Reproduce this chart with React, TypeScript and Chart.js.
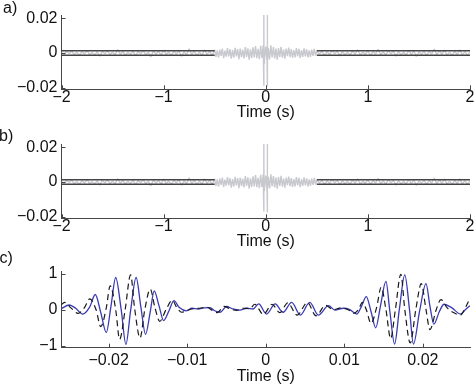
import React, { useEffect, useRef } from 'react';
import { Chart, registerables } from 'chart.js';

Chart.register(...registerables);

// ---------------- data ----------------
// panels a) and b): x axis
const xTicksAB = [-2, -1, 0, 1, 2];
const yTicksAB = [-0.02, 0, 0.02];
// panel c) axes
const xTicksC = [-0.02, -0.01, 0, 0.01, 0.02];
const yTicksC = [-1, 0, 1];

// gray raw signal, outer left part (t = -2 ... -0.525, step 0.025 s)
const grayOuterLeft = [
  0.0004, -0.0007, 0.0009, -0.0003, 0.0012, -0.0010, 0.0005, -0.0014, 0.0008, -0.0006,
  0.0015, -0.0009, 0.0003, -0.0012, 0.0007, -0.0018, 0.0010, -0.0005, 0.0013, -0.0008,
  0.0006, -0.0011, 0.0020, -0.0007, 0.0009, -0.0013, 0.0004, -0.0009, 0.0011, -0.0016,
  0.0008, -0.0004, 0.0014, -0.0010, 0.0006, -0.0022, 0.0012, -0.0007, 0.0009, -0.0012,
  0.0017, -0.0008, 0.0005, -0.0014, 0.0010, -0.0006, 0.0013, -0.0019, 0.0007, -0.0010,
  0.0024, -0.0009, 0.0011, -0.0015, 0.0006, -0.0012, 0.0018, -0.0008, 0.0010, -0.0013,
];
// gray raw signal, inner part (t = -0.5 ... 0.5, step 0.0125 s)
const grayInner = [
  0.0018, -0.0022, 0.0015, -0.0027, 0.0020, -0.0017, 0.0025, -0.0030, 0.0014, -0.0021,
  0.0028, -0.0019, 0.0023, -0.0033, 0.0017, -0.0026, 0.0030, -0.0020, 0.0022, -0.0035,
  0.0026, -0.0024, 0.0019, -0.0031, 0.0035, -0.0022, 0.0027, -0.0038, 0.0021, -0.0029,
  0.0033, -0.0025, 0.0040, -0.0030, 0.0024, -0.0036, 0.0042, -0.0028, 0.0045, -0.0040,
  0.0038,
  -0.0042, 0.0030, -0.0037, 0.0044, -0.0026, 0.0034, -0.0031, 0.0025, -0.0039, 0.0029,
  -0.0023, 0.0036, -0.0027, 0.0020, -0.0032, 0.0026, -0.0018, 0.0031, -0.0024, 0.0022,
  -0.0028, 0.0017, -0.0025, 0.0029, -0.0020, 0.0024, -0.0030, 0.0016, -0.0022, 0.0027,
  -0.0019, 0.0021, -0.0026, 0.0015, -0.0023, 0.0019, -0.0017, 0.0024, -0.0015, 0.0012,
];
// gray raw signal, outer right part (t = 0.525 ... 2, step 0.025 s)
const grayOuterRight = [
  -0.0006, 0.0010, -0.0013, 0.0007, -0.0009, 0.0015, -0.0005, 0.0011, -0.0017, 0.0008,
  -0.0010, 0.0006, -0.0014, 0.0012, -0.0007, 0.0019, -0.0011, 0.0005, -0.0008, 0.0013,
  -0.0016, 0.0009, -0.0006, 0.0021, -0.0010, 0.0007, -0.0012, 0.0014, -0.0005, 0.0010,
  -0.0018, 0.0008, -0.0011, 0.0006, -0.0013, 0.0016, -0.0009, 0.0012, -0.0020, 0.0007,
  -0.0008, 0.0011, -0.0015, 0.0009, -0.0006, 0.0023, -0.0010, 0.0013, -0.0007, 0.0017,
  -0.0012, 0.0005, -0.0014, 0.0010, -0.0009, 0.0018, -0.0011, 0.0008, -0.0013, 0.0006,
];
// the two spikes near t = 0
const spikeT = [-0.0195, -0.0188, -0.0182, -0.0176, -0.017, 0.015, 0.0156, 0.0162, 0.0168, 0.0174];
const spikeA = [0.005, 0.024, -0.019, 0.016, -0.006, -0.006, 0.024, -0.0192, 0.015, -0.005];
const spikeB = [0.004, 0.023, -0.017, 0.014, -0.005, -0.005, 0.023, -0.0175, 0.013, -0.004];

// dark threshold lines (panels a, b)
const threshT = [-2, -0.5, 0, 0.5, 2];
const threshUpper = [0.0013, 0.0013, null, 0.0013, 0.0013];
const threshLower = [-0.0013, -0.0013, null, -0.0013, -0.0013];

// panel c) blue solid
const blueT = [
  -0.0261, -0.025, -0.0242, -0.0233, -0.0224, -0.0217, -0.021, -0.0203, -0.0197, -0.0191,
  -0.0184, -0.0178, -0.0172, -0.0165, -0.0159, -0.0153, -0.0147, -0.0142, -0.0136, -0.013,
  -0.0123, -0.0117, -0.011, -0.0101, -0.0094, -0.0086, -0.0079, -0.0071, -0.0065, -0.0058,
  -0.005, -0.0042, -0.0033, -0.0024, -0.0016, -0.0009, 0.0001, 0.0012, 0.0022, 0.0033,
  0.0044, 0.0056, 0.0067, 0.008, 0.0088, 0.0099, 0.0107, 0.0116, 0.0122, 0.0128,
  0.0134, 0.014, 0.0146, 0.0153, 0.0158, 0.0164, 0.017, 0.0177, 0.0183, 0.0188,
  0.0196, 0.0204, 0.0209, 0.0214, 0.0221, 0.0227, 0.0237, 0.0248, 0.0254, 0.026,
];
const blueV = [
  0.02, 0.13, 0.04, -0.12, 0.08, 0.42, -0.08, -0.63, 0.1, 0.89,
  0.0, -0.96, -0.02, 0.89, 0.08, -0.68, -0.05, 0.52, 0.12, -0.3,
  -0.02, 0.25, 0.06, -0.03, 0.04, 0.02, 0.05, 0.06, -0.03, -0.07,
  0.09, 0.02, -0.01, 0.04, 0.02, 0.16, -0.12, 0.16, -0.07, 0.2,
  -0.15, 0.2, -0.15, 0.11, -0.01, 0.04, 0.0, -0.12, 0.1, 0.36,
  -0.05, -0.5, 0.1, 0.78, -0.05, -0.95, 0.0, 0.96, 0.0, -0.95,
  -0.02, 0.72, 0.1, -0.4, -0.05, 0.15, 0.05, -0.12, 0.0, 0.11,
];
// panel c) black dashed
const dashT = [
  -0.0261, -0.0256, -0.0248, -0.0239, -0.0231, -0.0224, -0.0216, -0.021, -0.0203, -0.0198,
  -0.0191, -0.0186, -0.0179, -0.0172, -0.0167, -0.016, -0.0154, -0.0147, -0.0141, -0.0135,
  -0.0127, -0.0119, -0.0113, -0.0107, -0.01, -0.0094, -0.0084, -0.0075, -0.0068, -0.0062,
  -0.0053, -0.0046, -0.0037, -0.0028, -0.002, -0.0014, -0.0003, 0.0008, 0.0018, 0.0028,
  0.004, 0.0053, 0.0064, 0.0076, 0.0086, 0.0096, 0.0105, 0.0112, 0.0118, 0.0123,
  0.0128, 0.0134, 0.0141, 0.0147, 0.0153, 0.0159, 0.0165, 0.0172, 0.0177, 0.0184,
  0.0191, 0.0198, 0.0204, 0.0209, 0.0217, 0.0223, 0.0231, 0.0239, 0.0248, 0.0254,
  0.026,
];
const dashV = [
  0.12, 0.2, 0.05, -0.1, 0.05, 0.3, 0.0, -0.47, 0.05, 0.66,
  0.0, -0.82, 0.0, 0.96, 0.05, -0.78, 0.0, 0.57, 0.05, -0.32,
  0.0, 0.26, 0.05, -0.07, -0.02, 0.02, 0.04, 0.07, -0.02, -0.08,
  0.09, 0.03, -0.02, 0.04, 0.03, 0.15, -0.13, 0.15, -0.08, 0.19,
  -0.15, 0.2, -0.17, 0.12, 0.0, 0.05, 0.0, -0.1, 0.0, 0.2,
  0.0, -0.38, 0.05, 0.62, 0.0, -0.8, 0.0, 0.98, 0.0, -0.92,
  0.0, 0.72, 0.0, -0.55, 0.0, 0.28, 0.05, -0.08, -0.15, 0.05,
  0.32,
];

// ---------------- styles ----------------
const FONT_FAMILY = '"Liberation Sans", Arial, Helvetica, sans-serif';
const AXIS_COLOR = '#464646';
const TEXT_COLOR = '#111111';
const GRAY = 'rgb(200,200,207)';
const DARK = '#454545';
const BLUE = '#3a3ab4';
const DASH = '#1a1a1a';

function fmt(v: number): string {
  if (v === 0) return '0';
  return (v < 0 ? '\u2212' : '') + String(Math.abs(v));
}

function grayPoints(spikeV: number[]) {
  const pts: { x: number; y: number }[] = [];
  grayOuterLeft.forEach((v, i) => pts.push({ x: -2 + i * 0.025, y: v }));
  grayInner.forEach((v, i) => pts.push({ x: -0.5 + i * 0.0125, y: v }));
  grayOuterRight.forEach((v, i) => pts.push({ x: 0.525 + i * 0.025, y: v }));
  spikeT.forEach((t, i) => pts.push({ x: t, y: spikeV[i] }));
  pts.sort((a, b) => a.x - b.x);
  return pts;
}

function zip(ts: number[], vs: (number | null)[]) {
  return ts.map((t, i) => ({ x: t, y: vs[i] }));
}

function abDatasets(spikeV: number[]) {
  return [
    { data: zip(threshT, threshUpper), borderColor: DARK, borderWidth: 1.7, order: 0, spanGaps: false, pointRadius: 0 },
    { data: zip(threshT, threshLower), borderColor: DARK, borderWidth: 1.7, order: 0, spanGaps: false, pointRadius: 0 },
    { data: grayPoints(spikeV), borderColor: GRAY, borderWidth: 1.4, order: 1, pointRadius: 0, borderJoinStyle: 'bevel' },
  ];
}

function cDatasets() {
  return [
    { data: zip(dashT, dashV), borderColor: DASH, borderWidth: 1.2, borderDash: [6, 4], order: 0, pointRadius: 0, cubicInterpolationMode: 'monotone' },
    { data: zip(blueT, blueV), borderColor: BLUE, borderWidth: 1.3, order: 1, pointRadius: 0, cubicInterpolationMode: 'monotone' },
  ];
}

const innerTicks = {
  id: 'innerTicks',
  afterDatasetsDraw(chart: any) {
    const { ctx, chartArea, scales } = chart;
    ctx.save();
    ctx.strokeStyle = AXIS_COLOR;
    ctx.lineWidth = 1;
    scales.x.ticks.forEach((t: any) => {
      const px = Math.round(scales.x.getPixelForValue(t.value)) + 0.5;
      ctx.beginPath();
      ctx.moveTo(px, chartArea.bottom);
      ctx.lineTo(px, chartArea.bottom - 4);
      ctx.stroke();
    });
    scales.y.ticks.forEach((t: any) => {
      const py = Math.round(scales.y.getPixelForValue(t.value)) + 0.5;
      ctx.beginPath();
      ctx.moveTo(chartArea.left, py);
      ctx.lineTo(chartArea.left + 4, py);
      ctx.stroke();
    });
    ctx.restore();
  },
};

type Spec = {
  canvasTop: number;
  canvasHeight: number;
  chartTop: number;
  chartBottom: number;
  tickMid: number;
  titleMid: number;
  xMin: number;
  xMax: number;
  yMin: number;
  yMax: number;
  xTicks: number[];
  yTicks: number[];
  datasets: () => any[];
};

const LEFT = 61.5;
const RIGHT_PAD = 4;

function makeConfig(spec: Spec): any {
  const padTop = spec.chartTop - spec.canvasTop;
  const xAxisHeight = spec.canvasTop + spec.canvasHeight - spec.chartBottom;
  const tickPad = spec.tickMid - spec.chartBottom - 8;
  const titlePadBottom = spec.canvasTop + spec.canvasHeight - spec.titleMid - 8;
  const font = { family: FONT_FAMILY, size: 16, lineHeight: 1 };
  return {
    type: 'line',
    data: { datasets: spec.datasets() },
    options: {
      animation: false,
      responsive: false,
      maintainAspectRatio: false,
      events: [],
      layout: { padding: { top: padTop, left: 0, right: RIGHT_PAD, bottom: 0 } },
      plugins: { legend: { display: false }, tooltip: { enabled: false }, title: { display: false } },
      elements: { point: { radius: 0 }, line: { tension: 0 } },
      scales: {
        x: {
          type: 'linear',
          position: 'bottom',
          min: spec.xMin,
          max: spec.xMax,
          afterBuildTicks: (s: any) => {
            s.ticks = spec.xTicks.map((v) => ({ value: v }));
          },
          afterFit: (s: any) => {
            s.height = xAxisHeight;
            s.paddingLeft = 0;
            s.paddingRight = 0;
          },
          grid: { display: false, drawTicks: false },
          border: { display: true, color: AXIS_COLOR, width: 1 },
          ticks: {
            padding: tickPad,
            color: TEXT_COLOR,
            font,
            maxRotation: 0,
            autoSkip: false,
            callback: (v: any) => fmt(Number(v)),
          },
          title: {
            display: true,
            text: 'Time (s)',
            color: TEXT_COLOR,
            font,
            padding: { top: 0, bottom: titlePadBottom },
          },
        },
        y: {
          type: 'linear',
          position: 'left',
          min: spec.yMin,
          max: spec.yMax,
          afterBuildTicks: (s: any) => {
            s.ticks = spec.yTicks.map((v) => ({ value: v }));
          },
          afterFit: (s: any) => {
            s.width = LEFT;
            s.paddingTop = 0;
            s.paddingBottom = 0;
          },
          grid: { display: false, drawTicks: false },
          border: { display: true, color: AXIS_COLOR, width: 1 },
          ticks: {
            padding: 4,
            color: TEXT_COLOR,
            font,
            autoSkip: false,
            callback: (v: any) => fmt(Number(v)),
          },
        },
      },
    },
    plugins: [innerTicks],
  };
}

const specs: Spec[] = [
  {
    canvasTop: 0, canvasHeight: 125, chartTop: 15, chartBottom: 89.3, tickMid: 98, titleMid: 113,
    xMin: -2, xMax: 2, yMin: -0.021, yMax: 0.022, xTicks: xTicksAB, yTicks: yTicksAB,
    datasets: () => abDatasets(spikeA),
  },
  {
    canvasTop: 125, canvasHeight: 125, chartTop: 144, chartBottom: 218.3, tickMid: 227, titleMid: 241.5,
    xMin: -2, xMax: 2, yMin: -0.021, yMax: 0.022, xTicks: xTicksAB, yTicks: yTicksAB,
    datasets: () => abDatasets(spikeB),
  },
  {
    canvasTop: 250, canvasHeight: 137, chartTop: 271.7, chartBottom: 347.7, tickMid: 361, titleMid: 376.5,
    xMin: -0.026, xMax: 0.026, yMin: -1.05, yMax: 1.05, xTicks: xTicksC, yTicks: yTicksC,
    datasets: cDatasets,
  },
];

function Panel({ spec }: { spec: Spec }) {
  const ref = useRef<HTMLCanvasElement>(null);
  useEffect(() => {
    if (!ref.current) return;
    const chart = new Chart(ref.current, makeConfig(spec));
    return () => chart.destroy();
  }, [spec]);
  return (
    <canvas
      ref={ref}
      width={474}
      height={spec.canvasHeight}
      style={{ position: 'absolute', left: 0, top: spec.canvasTop, width: 474, height: spec.canvasHeight, display: 'block' }}
    />
  );
}

const labelStyle: React.CSSProperties = {
  position: 'absolute',
  fontFamily: FONT_FAMILY,
  fontSize: 16,
  lineHeight: '16px',
  color: TEXT_COLOR,
  whiteSpace: 'nowrap',
};

export default function App() {
  return (
    <div style={{ position: 'absolute', left: 0, top: 0, width: 474, height: 387, background: '#fff', overflow: 'hidden' }}>
      {specs.map((s, i) => (
        <Panel key={i} spec={s} />
      ))}
      <div style={{ ...labelStyle, left: 3, top: -0.5 }}>a)</div>
      <div style={{ ...labelStyle, left: -1, top: 128 }}>b)</div>
      <div style={{ ...labelStyle, left: -0.5, top: 249.5 }}>c)</div>
    </div>
  );
}
